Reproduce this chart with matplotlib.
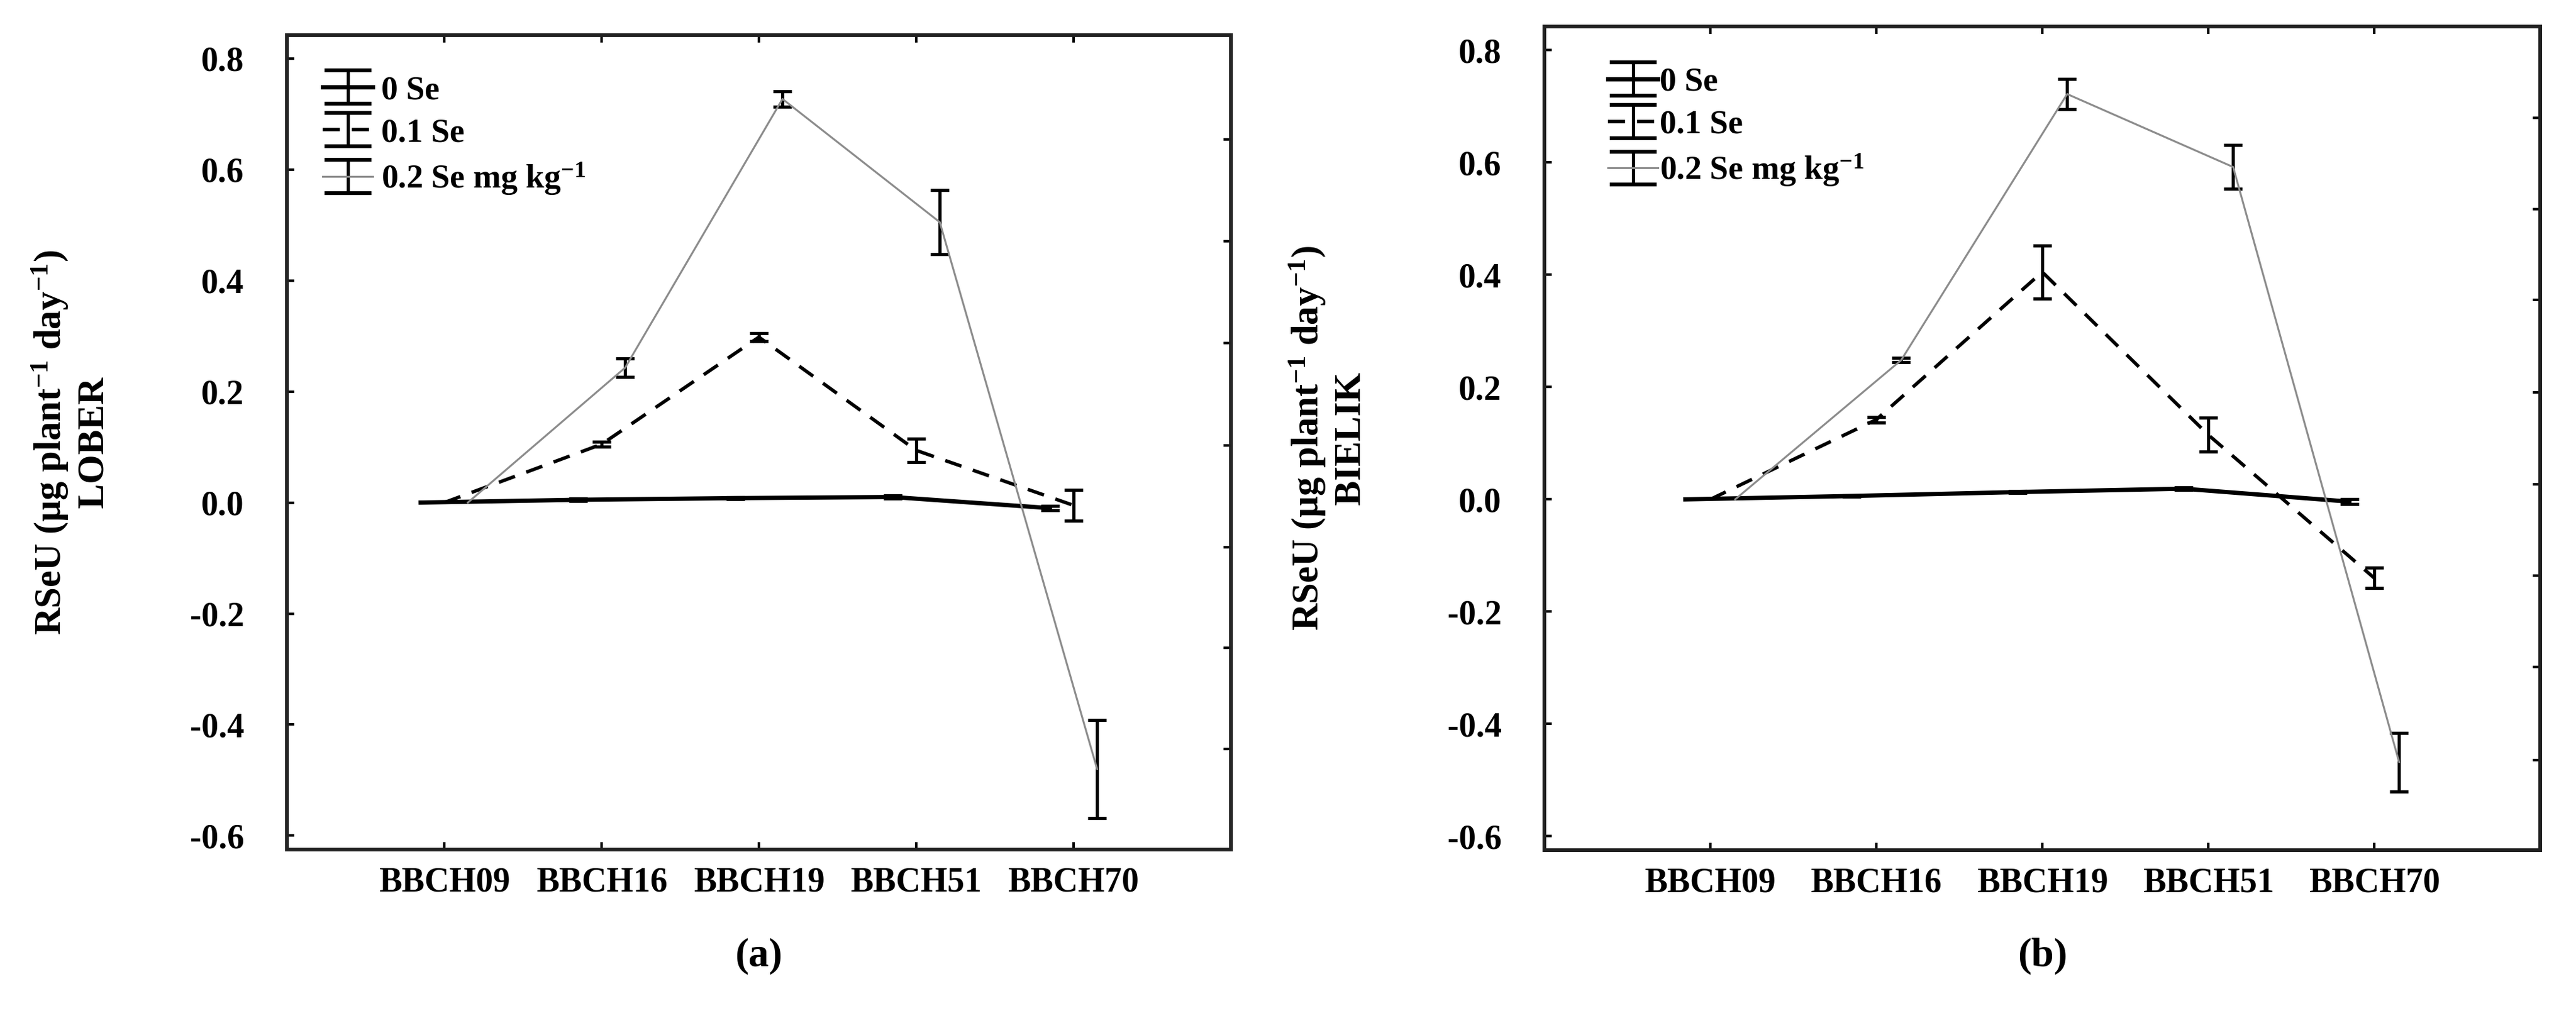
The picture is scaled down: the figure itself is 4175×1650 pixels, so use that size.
import numpy as np
import matplotlib
matplotlib.use('Agg')
import matplotlib.pyplot as plt

plt.rcParams['font.family'] = ['Liberation Serif', 'DejaVu Serif']
plt.rcParams['font.weight'] = 'bold'
plt.rcParams['mathtext.default'] = 'regular'

stages = ['BBCH09', 'BBCH16', 'BBCH19', 'BBCH51', 'BBCH70']
labels = ['0 Se', '0.1 Se', '0.2 Se mg kg$^{-1}$']

# (a) LOBER
lober_0 = [0.0, 0.005, 0.008, 0.010, -0.010]
lober_0_err = [0.0, 0.002, 0.002, 0.003, 0.004]
lober_01 = [0.0, 0.105, 0.298, 0.094, -0.005]
lober_01_err = [0.0, 0.004, 0.007, 0.021, 0.028]
lober_02 = [0.0, 0.243, 0.727, 0.505, -0.480]
lober_02_err = [0.0, 0.017, 0.014, 0.058, 0.088]

# (b) BIELIK
bielik_0 = [0.0, 0.006, 0.013, 0.019, -0.004]
bielik_0_err = [0.0, 0.001, 0.002, 0.002, 0.004]
bielik_01 = [0.0, 0.142, 0.405, 0.115, -0.140]
bielik_01_err = [0.0, 0.005, 0.047, 0.030, 0.018]
bielik_02 = [0.0, 0.248, 0.722, 0.592, -0.468]
bielik_02_err = [0.0, 0.004, 0.027, 0.039, 0.052]

styles = [dict(color='black', lw=2.0, ls='-'),
          dict(color='black', lw=1.6, ls=(0, (5, 3.5))),
          dict(color='#8c8c8c', lw=0.9, ls='-')]
offsets = [-0.15, 0.0, 0.15]


def draw_panel(ax, series, errs, name, right_ticks, letter, leg_x, leg_pad):
    x = np.arange(len(stages))
    for s, e, st, off in zip(series, errs, styles, offsets):
        ax.errorbar(x + off, s, yerr=e, errorevery=(1, 1), color=st['color'],
                    lw=st['lw'], ls=st['ls'], ecolor='black', elinewidth=1.5,
                    capsize=4.3, capthick=1.5)
    # legend proxies: a single NaN point, so caps exist but nothing is drawn
    handles = []
    for st in styles:
        h = ax.errorbar([np.nan], [np.nan], yerr=[0.1], color=st['color'],
                        lw=st['lw'], ls=st['ls'], ecolor='black', elinewidth=1.5,
                        capsize=11, capthick=1.8)
        handles.append(h)
    ax.legend(handles, labels, loc='upper left', bbox_to_anchor=(leg_x, 0.975),
              frameon=False, fontsize=15.5, handlelength=1.5, handletextpad=leg_pad,
              labelspacing=0.35, borderaxespad=0.2)

    ax.set_xlim(-1, 5)
    ax.set_ylim(-0.625, 0.842)
    ax.set_xticks(x)
    ax.set_xticklabels(stages)
    ax.set_yticks([0.8, 0.6, 0.4, 0.2, 0.0, -0.2, -0.4, -0.6])
    ax.set_yticklabels(['0.8', '0.6', '0.4', '0.2', '0.0', '-0.2', '-0.4', '-0.6'])
    ax.tick_params(axis='x', direction='in', top=True, length=3.5, width=1.2,
                   pad=8, labelsize=16)
    ax.tick_params(axis='y', direction='in', length=3.5, width=1.2,
                   pad=20, labelsize=16)
    ax2 = ax.twinx()
    ax2.set_ylim(ax.get_ylim())
    ax2.set_yticks(right_ticks)
    ax2.tick_params(axis='y', direction='in', length=3.5, width=1.2, labelright=False)
    for a in (ax, ax2):
        for sp in a.spines.values():
            sp.set_linewidth(1.7)
            sp.set_color('#222222')

    bb = ax.get_position()
    fig.text(bb.x0 - 0.084, (bb.y0 + bb.y1) / 2,
             'RSeU (µg plant$^{-1}$ day$^{-1}$)\n' + name,
             rotation=90, ha='center', va='center', fontsize=17.5,
             linespacing=1.25, multialignment='center')
    fig.text((bb.x0 + bb.x1) / 2, 0.0606, letter, ha='center', va='center',
             fontsize=19)


fig = plt.figure(figsize=(16.7, 6.6), dpi=250)
ax_a = fig.add_axes([0.1114, 0.1655, 0.3664, 0.800])
ax_b = fig.add_axes([0.5995, 0.1648, 0.3866, 0.809])

draw_panel(ax_a, [lober_0, lober_01, lober_02],
           [lober_0_err, lober_01_err, lober_02_err], 'LOBER',
           [0.654, 0.471, 0.287, 0.103, -0.080, -0.262, -0.444], '(a)',
           0.017, 0.25)
draw_panel(ax_b, [bielik_0, bielik_01, bielik_02],
           [bielik_0_err, bielik_01_err, bielik_02_err], 'BIELIK',
           [0.680, 0.517, 0.355, 0.190, 0.027, -0.136, -0.299, -0.465], '(b)',
           0.044, 0.05)

plt.savefig('out.png', dpi=250)
